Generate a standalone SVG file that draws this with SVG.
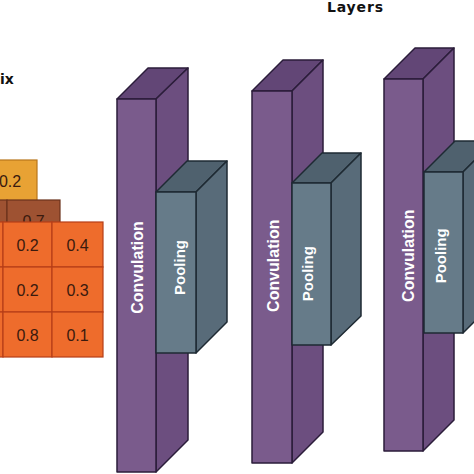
<svg xmlns="http://www.w3.org/2000/svg" width="474" height="474" viewBox="0 0 474 474">
<style>
.cf{fill:#7a5b8c;stroke:#2b1d3a;stroke-width:1.5;stroke-linejoin:round}
.cs{fill:#6c4e7f;stroke:#2b1d3a;stroke-width:1.5;stroke-linejoin:round}
.ct{fill:#624676;stroke:#2b1d3a;stroke-width:1.5;stroke-linejoin:round}
.pf{fill:#667b89;stroke:#1e2a33;stroke-width:1.5;stroke-linejoin:round}
.ps{fill:#586b79;stroke:#1e2a33;stroke-width:1.5;stroke-linejoin:round}
.pt{fill:#4f616e;stroke:#1e2a33;stroke-width:1.5;stroke-linejoin:round}
.lbl{fill:#ffffff;font-family:"Liberation Sans",Arial,sans-serif;font-weight:bold;text-anchor:middle}
.num{fill:#3a1a0e;font-family:"Liberation Sans",Arial,sans-serif;font-size:16px;text-anchor:middle}
.ttl{fill:#111111;font-family:"DejaVu Sans",sans-serif;font-weight:bold;font-size:14px}
.y{fill:#e8a234;stroke:#b8761c;stroke-width:1.2}
.b{fill:#9e5232;stroke:#6b321c;stroke-width:1.2}
.o{fill:#ee6c2c;stroke:#b63e18;stroke-width:1.2}
</style>
<rect width="474" height="474" fill="#ffffff"/>
<text class="ttl" x="327" y="12" textLength="56">Layers</text>
<text class="ttl" x="0" y="84" font-size="15">ix</text>
<g id="matrix">
  <rect class="y" x="-11" y="160" width="48" height="44"/>
  <text class="num" x="10" y="187">0.2</text>
  <rect class="b" x="-46" y="200" width="53" height="44"/>
  <rect class="b" x="7" y="200" width="53" height="44"/>
  <text class="num" x="33.5" y="227">0.7</text>
  <rect class="o" x="-47" y="222" width="50" height="45"/>
  <rect class="o" x="3" y="222" width="49" height="45"/>
  <rect class="o" x="52" y="222" width="51" height="45"/>
  <rect class="o" x="-47" y="267" width="50" height="45"/>
  <rect class="o" x="3" y="267" width="49" height="45"/>
  <rect class="o" x="52" y="267" width="51" height="45"/>
  <rect class="o" x="-47" y="312" width="50" height="45"/>
  <rect class="o" x="3" y="312" width="49" height="45"/>
  <rect class="o" x="52" y="312" width="51" height="45"/>
  <text class="num" x="27.5" y="250.5">0.2</text>
  <text class="num" x="77.5" y="250.5">0.4</text>
  <text class="num" x="27.5" y="295.5">0.2</text>
  <text class="num" x="77.5" y="295.5">0.3</text>
  <text class="num" x="27.5" y="340.5">0.8</text>
  <text class="num" x="77.5" y="340.5">0.1</text>
</g>
<g id="layer1">
  <polygon class="ct" points="117,99 148,68 188,68 156,99"/>
  <polygon class="cs" points="156,99 188,68 188,440 156,472"/>
  <rect class="cf" x="117" y="99" width="39" height="373"/>
  <polygon class="pt" points="156,192 187,161 227,161 196,192"/>
  <polygon class="ps" points="196,192 227,161 227,322 196,353"/>
  <rect class="pf" x="156" y="192" width="40" height="161"/>
  <text class="lbl" font-size="16" transform="translate(142.5,267.5) rotate(-90)">Convulation</text>
  <text class="lbl" font-size="15" transform="translate(184.5,267.5) rotate(-90)">Pooling</text>
</g>
<g id="layer2">
  <polygon class="ct" points="252,91 283,60 323,60 292,91"/>
  <polygon class="cs" points="292,91 323,60 323,432 292,463"/>
  <rect class="cf" x="252" y="91" width="40" height="372"/>
  <polygon class="pt" points="292,183 322,153 361,153 331,183"/>
  <polygon class="ps" points="331,183 361,153 361,316 331,345"/>
  <rect class="pf" x="292" y="183" width="39" height="162"/>
  <text class="lbl" font-size="16" transform="translate(278.5,265.7) rotate(-90)">Convulation</text>
  <text class="lbl" font-size="15" transform="translate(312.5,273.7) rotate(-90)">Pooling</text>
</g>
<g id="layer3">
  <polygon class="ct" points="384,79 415,48 454,48 423,79"/>
  <polygon class="cs" points="423,79 454,48 454,420 423,451"/>
  <rect class="cf" x="384" y="79" width="39" height="372"/>
  <polygon class="pt" points="424,172 455,141 494,141 463,172"/>
  <polygon class="ps" points="463,172 494,141 494,302 463,333"/>
  <rect class="pf" x="424" y="172" width="39" height="161"/>
  <text class="lbl" font-size="16" transform="translate(414,255.7) rotate(-90)">Convulation</text>
  <text class="lbl" font-size="15" transform="translate(445.5,255.8) rotate(-90)">Pooling</text>
</g>
<g id="connectors"/>
</svg>
